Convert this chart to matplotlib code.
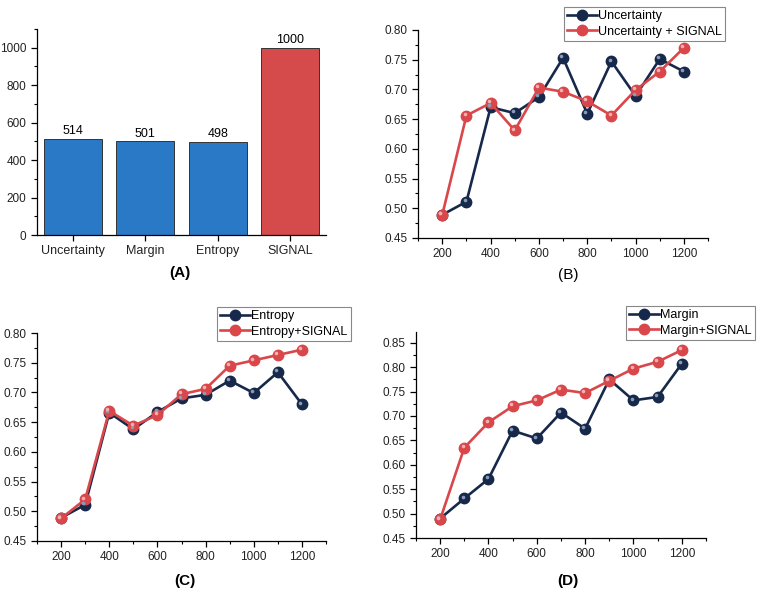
import matplotlib
matplotlib.use("Agg")
import matplotlib.pyplot as plt
from matplotlib.ticker import MultipleLocator, AutoMinorLocator
from matplotlib.transforms import offset_copy

plt.rcParams['font.family'] = ['Liberation Sans', 'DejaVu Sans']

# panel A
methods = ['Uncertainty', 'Margin', 'Entropy', 'SIGNAL']
counts = [514, 501, 498, 1000]

# panels B-D
sizes = [200, 300, 400, 500, 600, 700, 800, 900, 1000, 1100, 1200]
uncertainty = [0.489, 0.511, 0.670, 0.660, 0.687, 0.753, 0.659, 0.747, 0.689, 0.751, 0.730]
uncertainty_signal = [0.489, 0.656, 0.677, 0.631, 0.703, 0.696, 0.680, 0.656, 0.699, 0.730, 0.770]
entropy = [0.489, 0.511, 0.666, 0.638, 0.667, 0.690, 0.696, 0.720, 0.699, 0.734, 0.680]
entropy_signal = [0.488, 0.520, 0.669, 0.644, 0.662, 0.697, 0.706, 0.745, 0.754, 0.763, 0.772]
margin = [0.490, 0.531, 0.571, 0.670, 0.654, 0.707, 0.674, 0.775, 0.732, 0.739, 0.807]
margin_signal = [0.488, 0.635, 0.687, 0.720, 0.732, 0.754, 0.747, 0.772, 0.797, 0.811, 0.835]

navy = '#17294a'
red = '#d9474b'
blue = '#2a79c6'
bar_red = '#d54a4a'

fig = plt.figure(figsize=(7.63, 5.93), dpi=100)


def style_axis(ax):
    ax.spines['top'].set_visible(False)
    ax.spines['right'].set_visible(False)
    ax.tick_params(direction='out', labelsize=8.5, length=4, width=0.9, labelcolor='#222222')
    ax.tick_params(which='minor', direction='out', length=2.5, width=0.8)
    for s in ['left', 'bottom']:
        ax.spines[s].set_linewidth(0.9)


# (A)
axA = fig.add_axes([0.0485, 0.6037, 0.3788, 0.3474])
colors = [blue, blue, blue, bar_red]
bars = axA.bar(range(len(methods)), counts, width=0.8, color=colors,
               edgecolor='#333333', linewidth=0.7)
for b, c in zip(bars, counts):
    axA.text(b.get_x() + b.get_width() / 2, c + 8, str(c), ha='center', va='bottom', fontsize=9)
axA.set_xticks(range(len(methods)))
axA.set_xticklabels(methods, fontsize=9)
axA.set_xlim(-0.5, 3.5)
axA.set_ylim(0, 1100)
axA.yaxis.set_major_locator(MultipleLocator(200))
axA.yaxis.set_minor_locator(AutoMinorLocator(2))
style_axis(axA)
axA.tick_params(axis='x', labelsize=9)
fig.text(0.236, 0.5396, '(A)', ha='center', va='center', fontsize=11, fontweight='bold')


def line_panel(rect, a, b, la, lb, ylim, leg_xy, label, label_xy, ystep=0.05):
    ax = fig.add_axes(rect)
    ax.plot(sizes, a, color=navy, lw=1.9, marker='o', ms=7.5, mfc=navy, mec=navy, label=la, zorder=3)
    ax.plot(sizes, b, color=red, lw=1.9, marker='o', ms=7.5, mfc=red, mec=red, label=lb, zorder=3)
    # little shine on the spheres
    shine = offset_copy(ax.transData, fig=fig, x=-1.3, y=1.3, units='points')
    ax.plot(sizes, a, ls='none', marker='o', ms=2.6, mfc='#8a9bb8', mec='none', transform=shine, zorder=4)
    ax.plot(sizes, b, ls='none', marker='o', ms=2.6, mfc='#f2b0b0', mec='none', transform=shine, zorder=4)
    ax.set_xlim(100, 1300)
    ax.set_ylim(*ylim)
    ax.xaxis.set_major_locator(MultipleLocator(200))
    ax.xaxis.set_minor_locator(AutoMinorLocator(2))
    ax.yaxis.set_major_locator(MultipleLocator(ystep))
    ax.yaxis.set_minor_locator(AutoMinorLocator(2))
    ax.yaxis.set_major_formatter(plt.FormatStrFormatter('%.2f'))
    style_axis(ax)
    leg = ax.legend(loc='upper left', bbox_to_anchor=leg_xy, bbox_transform=fig.transFigure,
                    fontsize=9, fancybox=False, edgecolor='#888888', framealpha=1,
                    borderpad=0.25, labelspacing=0.28, handlelength=2.4, handletextpad=0.1,
                    borderaxespad=0)
    leg.get_frame().set_linewidth(0.8)
    fig.text(label_xy[0], label_xy[1], label, ha='center', va='center', fontsize=11,
             fontweight='bold' if label != '(B)' else 'normal')
    return ax


line_panel([0.548, 0.5987, 0.380, 0.3508], uncertainty, uncertainty_signal,
           'Uncertainty', 'Uncertainty + SIGNAL', (0.45, 0.80), (0.739, 0.988),
           '(B)', (0.7444, 0.536))
line_panel([0.0485, 0.0877, 0.3788, 0.3507], entropy, entropy_signal,
           'Entropy', 'Entropy+SIGNAL', (0.45, 0.80), (0.2844, 0.4823),
           '(C)', (0.2425, 0.0202))
line_panel([0.5452, 0.0927, 0.380, 0.3474], margin, margin_signal,
           'Margin', 'Margin+SIGNAL', (0.45, 0.872), (0.8204, 0.484),
           '(D)', (0.7444, 0.0202))

fig.savefig('out.png', dpi=100)
